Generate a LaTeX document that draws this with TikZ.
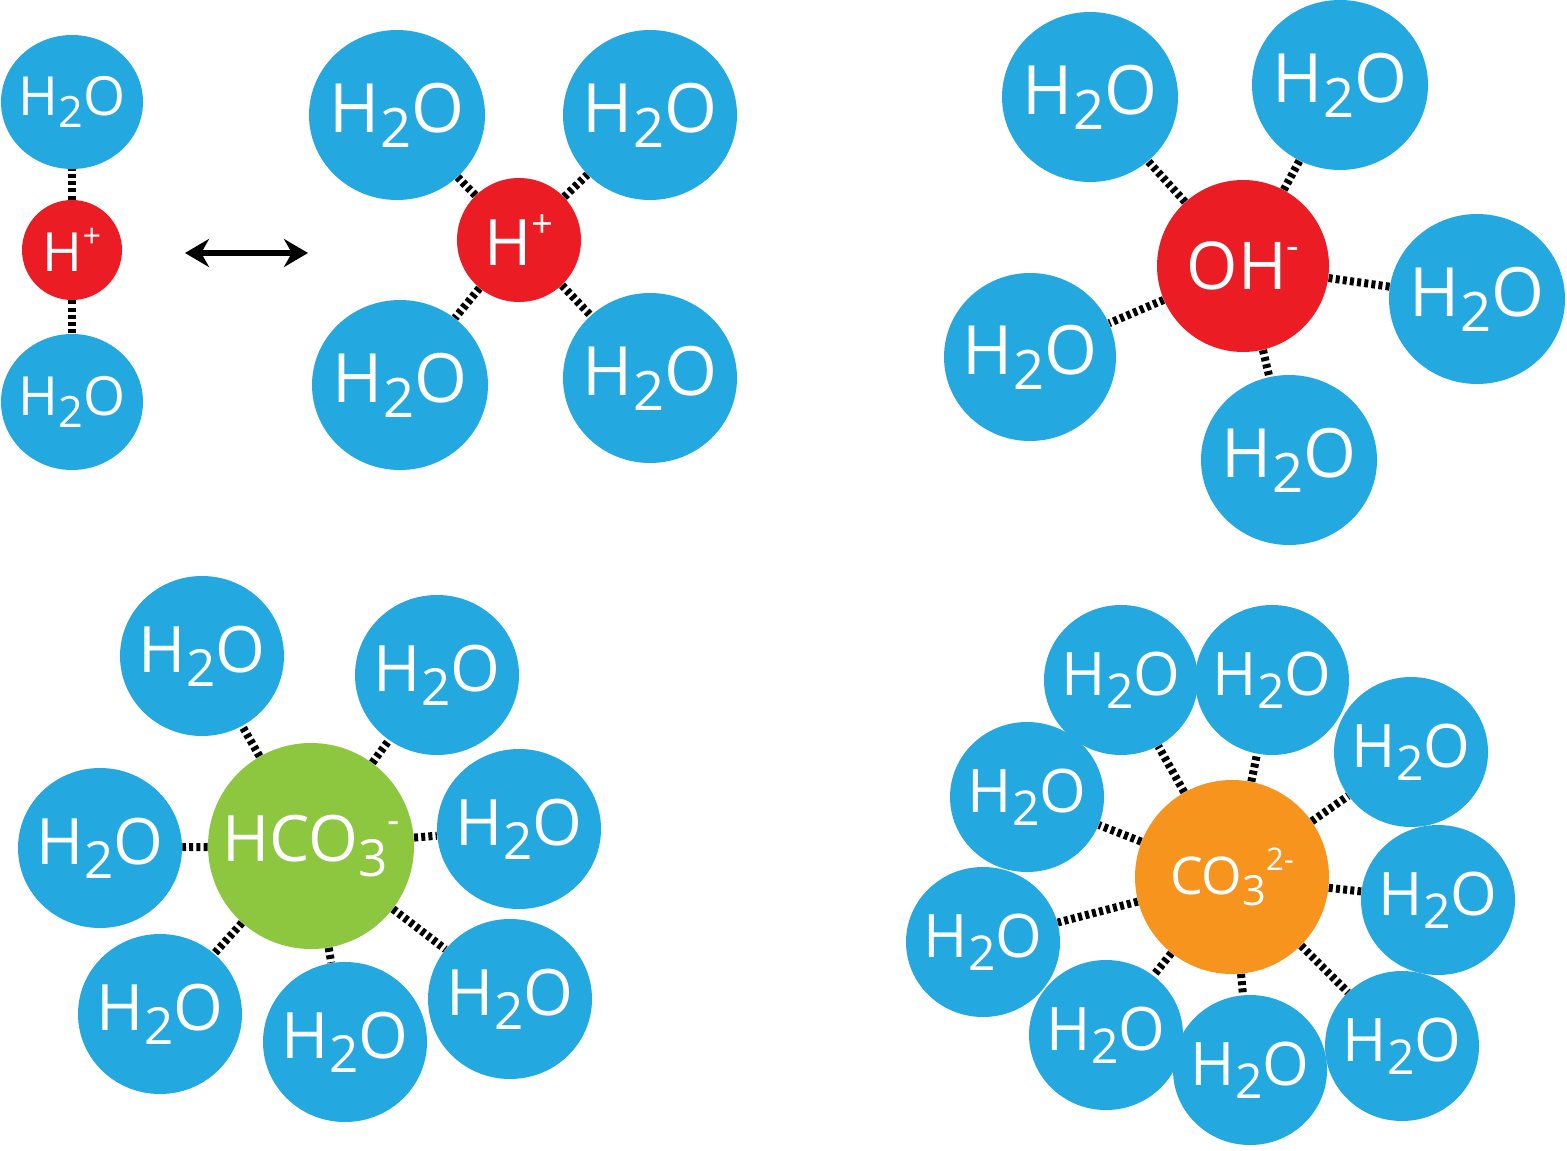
\documentclass[tikz,border=0pt]{standalone}
\usepackage{fontspec}
\setmainfont{Open Sans}
\usetikzlibrary{shapes.geometric,arrows.meta}
\definecolor{wblue}{HTML}{23A8E0}
\definecolor{ired}{HTML}{EC1C24}
\definecolor{igreen}{HTML}{8DC63F}
\definecolor{iorange}{HTML}{F7941D}
\newcommand{\mysb}[1]{\raisebox{-0.22em}{\scalebox{0.8}{#1}}}
\newcommand{\mysp}[1]{\raisebox{0.45em}{\scalebox{0.6}{#1}}}
% name, x, y, diam-w, diam-h, font, color, text
\newcommand{\mol}[8]{\node[mol,fill=#7,minimum width=#4pt,minimum height=#5pt] (#1) at (#2,#3) {};
 \node[moltext,font=\fontsize{#6}{#6}\selectfont] (#1-t) at (#1) {#8};}
\newcommand{\wat}[6]{\mol{#1}{#2}{#3}{#4}{#5}{#6}{wblue}{H\mysb{2}O}}
\tikzset{mol/.style={ellipse,inner sep=0pt},
 moltext/.style={inner sep=0pt,text=white},
 bond/.style={line width=4pt,dash pattern=on 2pt off 1.6pt,black}}
\begin{document}
\begin{tikzpicture}[x=0.5pt,y=-0.5pt]
\useasboundingbox (0,0) rectangle (1567,1150);
% top-left
\wat{a1}{72}{102}{71}{67}{27}
\wat{a2}{72}{402}{71}{68}{27}
\mol{h1}{72}{250}{50}{50}{27}{ired}{H\mysp{+}}
\coordinate (ar1) at (185,253); \coordinate (ar2) at (308,253);
\draw[line width=3pt,{Stealth[length=12pt,width=14pt]}-{Stealth[length=12pt,width=14pt]}] (ar1) -- (ar2);
% H+ cluster
\mol{h2}{519}{240}{62}{62}{32}{ired}{H\mysp{+}}
\wat{b1}{397}{115}{88}{85}{34}
\wat{b2}{650}{115}{87}{85}{34}
\wat{b3}{400}{385}{88}{85}{34}
\wat{b4}{650}{378}{87}{85}{34}
% OH-
\mol{oh}{1243}{266}{86}{86}{33}{ired}{OH\mysp{-}}
\wat{c1}{1090}{97}{88}{85}{34}
\wat{c2}{1340}{85}{88}{85}{34}
\wat{c3}{1477}{299}{88}{85}{34}
\wat{c4}{1030}{357}{86}{84}{34}
\wat{c5}{1289}{460}{88}{85}{34}
% HCO3-
\mol{hc}{311}{846}{103}{103}{32}{igreen}{HCO\mysb{3}\mysp{-}}
\wat{d1}{202}{656}{82}{80}{32}
\wat{d2}{437}{675}{82}{80}{32}
\wat{d3}{100}{848}{82}{80}{32}
\wat{d4}{519}{829}{82}{80}{32}
\wat{d5}{160}{1014}{82}{80}{32}
\wat{d6}{345}{1042}{82}{80}{32}
\wat{d7}{510}{999}{82}{80}{32}
% CO3 2-
\mol{co}{1232}{877}{97}{97}{26}{iorange}{CO\mysb{3}\mysp{2-}}
\wat{e1}{1121}{680}{77}{75}{30}
\wat{e2}{1272}{680}{77}{75}{30}
\wat{e3}{1411}{752}{77}{75}{30}
\wat{e4}{1027}{797}{77}{75}{30}
\wat{e5}{1438}{900}{77}{75}{30}
\wat{e6}{983}{942}{77}{75}{30}
\wat{e7}{1106}{1035}{77}{75}{30}
\wat{e8}{1250}{1070}{77}{75}{30}
\wat{e9}{1402}{1046}{77}{75}{30}
% bonds
\foreach \a/\b in {h1/a1,h1/a2,h2/b1,h2/b2,h2/b3,h2/b4,oh/c1,oh/c2,oh/c3,oh/c4,oh/c5,
 hc/d1,hc/d2,hc/d3,hc/d4,hc/d5,hc/d6,hc/d7,co/e1,co/e2,co/e3,co/e4,co/e5,co/e6,co/e7,co/e8,co/e9}
 \draw[bond] (\a) -- (\b);
\end{tikzpicture}
\end{document}
